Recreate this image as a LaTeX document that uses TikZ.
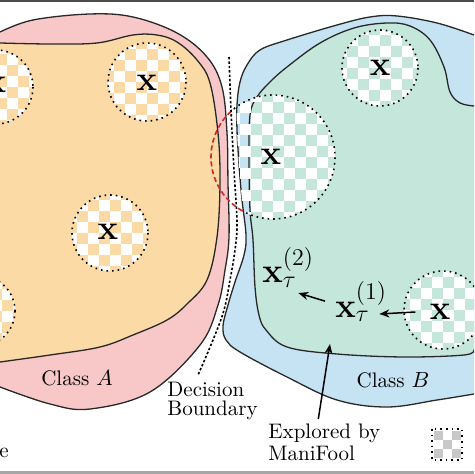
\documentclass[tikz,border=0pt]{standalone}
\usepackage{amsmath,amssymb,bm}
\usepackage{xcolor}
\usepackage{tikz}
\usetikzlibrary{arrows.meta,positioning,calc}
\definecolor{classa}{RGB}{248,200,200}
\definecolor{peach}{RGB}{252,218,166}
\definecolor{classb}{RGB}{198,227,244}
\definecolor{mint}{RGB}{197,230,219}
\definecolor{edge}{RGB}{40,40,40}
\definecolor{ballred}{RGB}{212,38,38}
\definecolor{legendgray}{RGB}{200,200,200}

% white squares over whatever lies below, inside a disc
\newcommand{\checkerball}[3]{%
  \begin{scope}
    \clip (#1,#2) circle (#3);
    \foreach \i in {-7,...,6}
      \foreach \j in {-7,...,6} {
        \pgfmathtruncatemacro{\sqodd}{mod(\i+\j+20,2)}
        \ifnum\sqodd=0 \fill[white] (#1+\i*11,#2+\j*11) rectangle ++(11,11); \fi
      }
  \end{scope}
}

\begin{document}
\begin{tikzpicture}[x=0.5pt, y=-0.5pt,
  region/.style={draw=edge, line width=0.65pt},
  ballrim/.style={line width=0.8pt, dotted},
  arr/.style={-{Stealth[length=5pt,width=4pt]}, line width=0.75pt},
  lbl/.style={font=\fontsize{10.5}{9.5}\selectfont, inner sep=0pt, align=left},
  pt/.style={font=\fontsize{18}{20}\selectfont, inner sep=0pt}]
\useasboundingbox (0,0) rectangle (474,474);
\clip (0,0) rectangle (474,474);

% class A
\path[region, fill=classa] plot[smooth, tension=0.6] coordinates {(0,32) (33,20) (90,14) (133,17) (177,33) (207,57) (222,87) (227,133) (228,183) (229,237) (225,270) (218,305) (200,345) (150,392) (90,409) (50,404) (0,387)}
  -- (-40,390) -- (-40,30) -- cycle;
\path[region, fill=peach] plot[smooth, tension=0.6] coordinates {(0,43) (50,44) (97,43) (133,35) (157,35) (177,42) (197,60) (210,83) (218,133) (220,183) (217,237) (207,280) (187,304) (167,320) (133,335) (100,347) (50,355) (0,362)}
  -- (-40,365) -- (-40,40) -- cycle;

% class B
\path[region, fill=classb, save path=\classBpath] plot[smooth, tension=0.6] coordinates {(474,35) (437,23) (397,16) (370,17) (337,25) (287,40) (260,50) (247,65) (240,82) (237,105) (237,130) (239,165) (242,200) (246,235) (244,255) (235,282) (228,305) (223,326) (226,340) (240,352) (287,377) (337,400) (387,407) (437,400) (474,394)}
  -- (500,394) -- (500,35) -- cycle;
\path[region, fill=mint] plot[smooth, tension=0.6] coordinates {(474,106) (460,103) (450,92) (444,67) (430,40) (410,26) (387,23) (354,28) (320,43) (287,67) (270,82) (257,97) (250,115) (249,160) (250,210) (253,240) (255,287) (259,315) (266,330) (287,347) (337,354) (404,357) (464,355) (474,350)}
  -- (500,350) -- (500,106) -- cycle;

% samples
\checkerball{-4}{87}{37}
\checkerball{147}{82}{39}
\checkerball{110}{233}{38}
\checkerball{-20}{311}{35}
\checkerball{380}{68}{38}
\checkerball{443}{310}{39}
\begin{scope}
  \clip[use path=\classBpath];
  \checkerball{273}{157}{62}
\end{scope}
\foreach \cx/\cy/\r in {-4/87/37, 147/82/39, 110/233/38, -20/311/35, 380/68/38, 443/310/39}
  \draw[ballrim] (\cx,\cy) circle (\r);
\draw[ballrim] (273,157) ++(-129:62) arc[start angle=-129, end angle=119.5, radius=62];
\draw[ballred, line width=0.8pt, dash pattern=on 2.5pt off 1.5pt] (273,157) ++(119.5:62) arc[start angle=119.5, end angle=231, radius=62];

% decision boundary
\draw[line width=0.8pt, dash pattern=on 1.2pt off 1pt] plot[smooth, tension=0.6] coordinates {(229,57) (231,110) (234,170) (237,222) (235,250) (230,280) (224,310) (213,340) (198,375)};

% labels
\node[pt] (xa) at (-4,85) {$\mathbf{x}$};
\node[pt] (xb) at (147,83) {$\mathbf{x}$};
\node[pt] (xd) at (108,232) {$\mathbf{x}$};
\node[pt] (xe) at (271,157) {$\mathbf{x}$};
\node[pt] (xf) at (380,68) {$\mathbf{x}$};
\node[pt] (xc) at (440,312) {$\mathbf{x}$};
\node[pt, anchor=base west] (xtwo) at (262,283) {$\mathbf{x}_\tau^{(2)}$};
\node[pt, anchor=base west] (xone) at (335,317) {$\mathbf{x}_\tau^{(1)}$};
\draw[arr] ([xshift=-7pt]xc.west) -- ([xshift=-4pt,yshift=1.5pt]xone.base east);
\draw[arr] ([xshift=-5pt]xone.west) -- ([xshift=-8pt,yshift=-5pt]xtwo.base east);

\node[lbl, anchor=base] (classA) at (77,385) {Class $A$};
\node[lbl, anchor=base] (classB) at (393,387) {Class $B$};
\node[lbl, anchor=north west] (boundary) at (167,382) {Decision\\Boundary};
\node[lbl, anchor=north west, font=\fontsize{10.5}{11}\selectfont] (explored) at (268,424) {Explored by\\ManiFool};
\coordinate (greenpt) at (330,344);
\draw[arr] ([xshift=-3pt,yshift=2.5pt]explored.north) -- (greenpt);
\node[lbl, anchor=base east] (cut) at (9,457) {e};

% legend swatch
\foreach \i in {0,1,2}
  \foreach \j in {0,1,2} {
    \pgfmathtruncatemacro{\sqodd}{mod(\i+\j,2)}
    \ifnum\sqodd=0 \fill[legendgray] (434+\i*9,431+\j*9) rectangle ++(9,9); \fi
  }
\draw[ballrim] (432,429) rectangle (462,460);

% frame bars
\fill[black!70] (0,0) rectangle (474,2.5);
\fill[black!35] (0,471) rectangle (474,474);
\end{tikzpicture}
\end{document}
